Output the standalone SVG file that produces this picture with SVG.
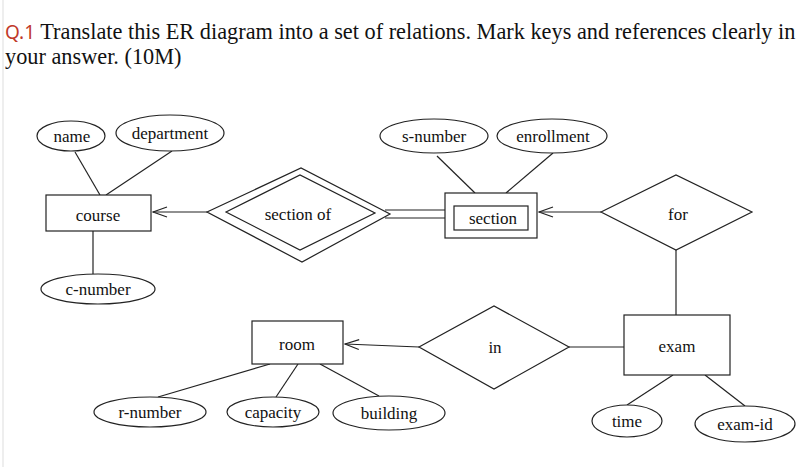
<svg xmlns="http://www.w3.org/2000/svg" width="799" height="467" viewBox="0 0 799 467">
<style>
.s{fill:#fff;stroke:#222;stroke-width:1.2}
.l{stroke:#222;stroke-width:1.2;fill:none}
text{font-family:"Liberation Serif",serif;font-size:17px;fill:#111;text-anchor:middle}
.h{font-size:22.3px;text-anchor:start}
</style>
<defs><marker id="a" markerWidth="16" markerHeight="12" refX="15" refY="6" orient="auto" markerUnits="userSpaceOnUse"><path d="M1,1 L15,6 L1,11" fill="none" stroke="#222" stroke-width="1.2"/></marker></defs>
<rect width="799" height="467" fill="#fff"/>
<line x1="3" y1="0" x2="3" y2="467" stroke="#ddd"/>
<text class="h" x="5" y="39"><tspan fill="#c0392b" font-family="Noto Sans,sans-serif" font-size="19">Q.1</tspan> Translate this ER diagram into a set of relations. Mark keys and references clearly in</text>
<text class="h" x="5" y="64">your answer. (10M)</text>
<g id="connectors">
<line class="l" x1="75" y1="152" x2="100" y2="195"/>
<line class="l" x1="172" y1="151" x2="106" y2="195"/>
<line class="l" x1="93" y1="231" x2="93" y2="274"/>
<line class="l" x1="207" y1="212" x2="153" y2="212" marker-end="url(#a)"/>
<line class="l" x1="385" y1="210" x2="445" y2="210"/>
<line class="l" x1="385" y1="218" x2="445" y2="218"/>
<line class="l" x1="437" y1="156" x2="475" y2="193"/>
<line class="l" x1="553" y1="153" x2="506" y2="193"/>
<line class="l" x1="601" y1="212" x2="539" y2="212" marker-end="url(#a)"/>
<line class="l" x1="676" y1="250" x2="676" y2="315"/>
<line class="l" x1="569" y1="347" x2="624" y2="347"/>
<line class="l" x1="419" y1="347" x2="345" y2="344" marker-end="url(#a)"/>
<line class="l" x1="270" y1="364" x2="158" y2="397"/>
<line class="l" x1="298" y1="364" x2="276" y2="397"/>
<line class="l" x1="320" y1="364" x2="379" y2="396"/>
<line class="l" x1="673" y1="375" x2="627" y2="405"/>
<line class="l" x1="705" y1="375" x2="745" y2="406"/>
</g>
<g id="course"><rect class="s" x="46" y="195" width="105" height="36"/><text x="98" y="221">course</text></g>
<g id="name"><ellipse class="s" cx="71" cy="136" rx="34" ry="15"/><text x="72" y="142">name</text></g>
<g id="department"><ellipse class="s" cx="170" cy="133" rx="54" ry="18"/><text x="170" y="139">department</text></g>
<g id="c-number"><ellipse class="s" cx="98" cy="289" rx="57" ry="15"/><text x="98" y="295">c-number</text></g>
<g id="section-of"><polygon class="s" points="207,212 301,168 390,214 302,262"/><polygon class="s" points="226,212 300,175 375,213 300,250"/><text x="298" y="220">section of</text></g>
<g id="section"><rect class="s" x="445" y="193" width="92" height="45"/><rect class="s" x="454" y="206" width="74" height="24"/><text x="493" y="224">section</text></g>
<g id="s-number"><ellipse class="s" cx="434" cy="136" rx="54" ry="17"/><text x="434" y="142">s-number</text></g>
<g id="enrollment"><ellipse class="s" cx="552" cy="136" rx="55" ry="17"/><text x="553" y="142">enrollment</text></g>
<g id="for"><polygon class="s" points="601,212 676,175 752,212 676,250"/><text x="678" y="220">for</text></g>
<g id="exam"><rect class="s" x="624" y="315" width="106" height="60"/><text x="677" y="352">exam</text></g>
<g id="in"><polygon class="s" points="419,347 494,306 569,347 494,389"/><text x="495" y="353">in</text></g>
<g id="room"><rect class="s" x="252" y="321" width="91" height="43"/><text x="297" y="350">room</text></g>
<g id="r-number"><ellipse class="s" cx="150" cy="412" rx="56" ry="15"/><text x="150" y="418">r-number</text></g>
<g id="capacity"><ellipse class="s" cx="273" cy="412" rx="46" ry="15"/><text x="273" y="418">capacity</text></g>
<g id="building"><ellipse class="s" cx="389" cy="413" rx="56" ry="17"/><text x="389" y="419">building</text></g>
<g id="time"><ellipse class="s" cx="627" cy="421" rx="35" ry="16"/><text x="627" y="427">time</text></g>
<g id="exam-id"><ellipse class="s" cx="745" cy="424" rx="50" ry="18"/><text x="745" y="430">exam-id</text></g>
</svg>
